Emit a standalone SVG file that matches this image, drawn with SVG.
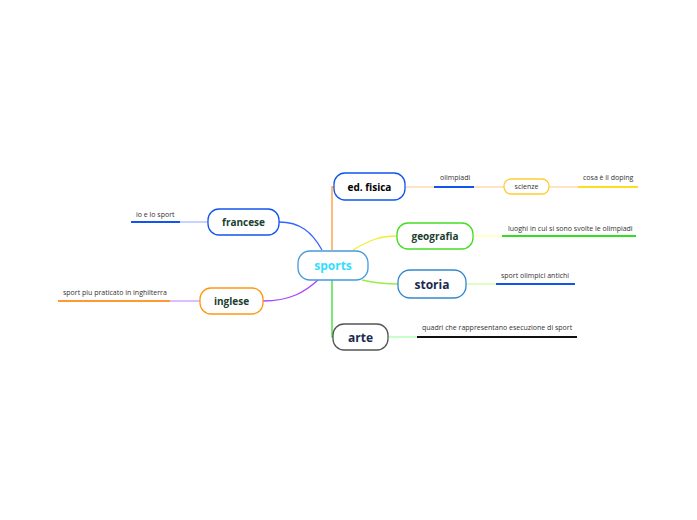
<svg xmlns="http://www.w3.org/2000/svg" width="697" height="520" viewBox="0 0 697 520">
<style>
.n{fill:#fff;stroke-width:1.3}
.t{font-family:"Open Sans","DejaVu Sans",sans-serif;font-weight:bold;text-anchor:middle}
.s{font-family:"Open Sans","DejaVu Sans",sans-serif;font-size:7px;fill:#333}
.c{fill:none;stroke-width:1.3}
.u{fill:none;stroke-width:2}
</style>
<rect width="697" height="520" fill="#fff"/>
<g id="connectors">
<path class="c" d="M332 250 V187 H334" stroke="#ff9933"/>
<path class="c" d="M332 280 V337 H333" stroke="#33dd33"/>
<path class="c" d="M279 222 C300 222 312 232 322 250" stroke="#3366ff"/>
<path class="c" d="M263 301 C290 301 305 292 318 280" stroke="#aa44ff"/>
<path class="c" d="M353 250 C370 240 380 236 397 236" stroke="#eeee33"/>
<path class="c" d="M362 280 C375 283 385 284 398 284" stroke="#99ee44"/>
<path class="c" d="M405 187 H504 M549 187 H578" stroke="#ffd9b0"/>
<path class="u" d="M434 187 H474" stroke="#1155ee"/>
<path class="u" d="M578 187 H638" stroke="#ffdd22"/>
<path class="c" d="M473 236 H502" stroke="#ffffaa"/>
<path class="u" d="M502 236 H636" stroke="#33dd22"/>
<path class="c" d="M466 284 H496" stroke="#ccff99"/>
<path class="u" d="M496 284 H575" stroke="#1155ee"/>
<path class="c" d="M388 337 H417" stroke="#aaffaa"/>
<path class="u" d="M417 337 H577" stroke="#111"/>
<path class="c" d="M208 222 H180" stroke="#aabbff"/>
<path class="u" d="M131 222 H180" stroke="#1155ee"/>
<path class="c" d="M200 301 H170" stroke="#cc99ff"/>
<path class="u" d="M58 301 H170" stroke="#ff9933"/>
</g>
<g id="sports"><rect class="n" x="298" y="251" width="70" height="29" rx="12" stroke="#4499dd"/><text class="t" x="333" y="270" font-size="12" fill="#33ddff">sports</text></g>
<g id="edfisica"><rect class="n" x="334" y="173" width="71" height="27" rx="11" stroke="#1155ee"/><text class="t" x="369.5" y="191" font-size="10" fill="#000">ed. fisica</text></g>
<g id="geografia"><rect class="n" x="397" y="223" width="76" height="26" rx="11" stroke="#44dd22"/><text class="t" x="435" y="240" font-size="10" fill="#1a4030">geografia</text></g>
<g id="storia"><rect class="n" x="398" y="270" width="68" height="28" rx="12" stroke="#3388cc"/><text class="t" x="432" y="288.5" font-size="12" fill="#1a2a50">storia</text></g>
<g id="arte"><rect class="n" x="333" y="324" width="55" height="26" rx="11" stroke="#555"/><text class="t" x="360.5" y="341.5" font-size="12" fill="#1a2a50">arte</text></g>
<g id="francese"><rect class="n" x="208" y="209" width="71" height="26" rx="11" stroke="#1155ee"/><text class="t" x="243.5" y="226" font-size="10" fill="#1a4030">francese</text></g>
<g id="inglese"><rect class="n" x="200" y="288" width="63" height="26" rx="11" stroke="#ff9911"/><text class="t" x="231.5" y="305" font-size="10" fill="#1a4030">inglese</text></g>
<g id="scienze"><rect class="n" x="504" y="179" width="45" height="15" rx="7" stroke="#ffcc33" stroke-width="1"/><text class="s" x="526.5" y="189" text-anchor="middle">scienze</text></g>
<g id="labels">
<text class="s" x="440" y="180">olimpiadi</text>
<text class="s" x="583" y="180">cosa è il doping</text>
<text class="s" x="508" y="231">luoghi in cui si sono svolte le olimpiadi</text>
<text class="s" x="501" y="278">sport olimpici  antichi</text>
<text class="s" x="422" y="330">quadri che rappresentano esecuzione di sport</text>
<text class="s" x="136" y="217">io e lo sport</text>
<text class="s" x="63" y="295">sport piu praticato in inghilterra</text>
</g>
</svg>
